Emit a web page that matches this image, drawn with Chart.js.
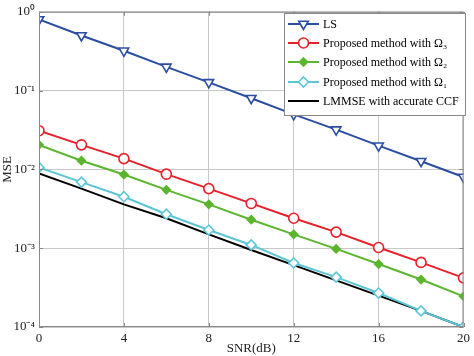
<!DOCTYPE html>
<html><head><meta charset="utf-8">
<script src="https://cdn.jsdelivr.net/npm/chart.js@4"></script>
<style>html,body{margin:0;padding:0;background:#fff}#wrap{width:474px;height:356px}</style>
</head><body><div id="wrap"><canvas id="c"></canvas></div>
<script>
const snr = [0, 2, 4, 6, 8, 10, 12, 14, 16, 18, 20];
const lsMSE = [0.8, 0.5, 0.32, 0.2, 0.127, 0.08, 0.05, 0.032, 0.02, 0.0127, 0.008];
const omega3MSE = [0.031, 0.0205, 0.0137, 0.0087, 0.0057, 0.0037, 0.0024, 0.0016, 0.00102, 0.00066, 0.00042];
const omega2MSE = [0.0205, 0.0129, 0.0086, 0.0055, 0.0036, 0.0023, 0.0015, 0.00098, 0.00063, 0.0004, 0.000245];
const omega1MSE = [0.0106, 0.0069, 0.0045, 0.0027, 0.0017, 0.0011, 0.00065, 0.00043, 0.00027, 0.00016, 0.0001];
const lmmseMSE = [0.0089, 0.0057, 0.0036, 0.0024, 0.0015, 0.00095, 0.00061, 0.00039, 0.00025, 0.00016, 0.0001];
const xTicks = [0, 4, 8, 12, 16, 20];
const yTicks = [1e-4, 1e-3, 1e-2, 1e-1, 1];
const yTickLabels = ['10\u207B\u2074', '10\u207B\u00B3', '10\u207B\u00B2', '10\u207B\u00B9', '10\u2070'];
const seriesNames = ['LS', 'Proposed method with \u03A9\u2083', 'Proposed method with \u03A9\u2082', 'Proposed method with \u03A9\u2081', 'LMMSE with accurate CCF'];

const pts = arr => arr.map((v, i) => ({x: snr[i], y: v}));
const FONT = '"Liberation Serif", "Times New Roman", serif';

const styles = [
  {c: '#2b4ea2', ps: 'triangle', rot: 180, r: 5.5, fill: '#ffffff'},
  {c: '#e62129', ps: 'circle', rot: 0, r: 5, fill: '#ffffff'},
  {c: '#5bb52e', ps: 'rectRot', rot: 0, r: 4, fill: '#5bb52e'},
  {c: '#5cc6d6', ps: 'rectRot', rot: 0, r: 5, fill: '#ffffff'},
  {c: '#000000', ps: false, rot: 0, r: 0, fill: '#000000'}
];
const series = [lsMSE, omega3MSE, omega2MSE, omega1MSE, lmmseMSE];
const orders = [1, 2, 3, 4, 5];

const datasets = series.map((s, i) => ({
  label: seriesNames[i],
  data: pts(s),
  borderColor: styles[i].c,
  backgroundColor: styles[i].fill,
  borderWidth: 2,
  pointStyle: styles[i].ps,
  pointRotation: styles[i].rot,
  pointRadius: styles[i].r,
  pointBorderWidth: 1.6,
  pointBorderColor: styles[i].c,
  pointBackgroundColor: styles[i].fill,
  tension: 0,
  order: orders[i]
}));

const framePlugin = {
  id: 'frame',
  afterDatasetsDraw(chart) {
    const {ctx, chartArea: a, scales} = chart;
    ctx.save();
    ctx.strokeStyle = '#888888';
    ctx.lineWidth = 1;
    ctx.strokeRect(a.left + 0.5, a.top + 0.5, a.right - a.left - 1, a.bottom - a.top - 1);
    ctx.beginPath();
    xTicks.forEach(t => {
      const x = Math.round(scales.x.getPixelForValue(t)) + 0.5;
      ctx.moveTo(x, a.bottom); ctx.lineTo(x, a.bottom - 4);
      ctx.moveTo(x, a.top); ctx.lineTo(x, a.top + 4);
    });
    yTicks.forEach(t => {
      const y = Math.round(scales.y.getPixelForValue(t)) + 0.5;
      ctx.moveTo(a.left, y); ctx.lineTo(a.left + 4, y);
      ctx.moveTo(a.right, y); ctx.lineTo(a.right - 4, y);
    });
    ctx.stroke();
    ctx.restore();
  },
  afterDraw(chart) {
    const {ctx} = chart;
    ctx.save();
    const bx = 284, by = 13, bw = 181, bh = 102;
    ctx.fillStyle = '#ffffff';
    ctx.fillRect(bx, by, bw, bh);
    ctx.strokeStyle = '#888888';
    ctx.lineWidth = 1;
    ctx.strokeRect(bx + 0.5, by + 0.5, bw, bh);
    const rows = [24, 43, 62, 82, 101];
    ctx.font = '12px ' + FONT;
    ctx.textBaseline = 'middle';
    ctx.textAlign = 'left';
    seriesNames.forEach((name, i) => {
      const y = rows[i];
      const st = styles[i];
      ctx.strokeStyle = st.c;
      ctx.lineWidth = 2;
      ctx.beginPath(); ctx.moveTo(288, y); ctx.lineTo(319, y); ctx.stroke();
      if (st.ps) {
        ctx.fillStyle = st.fill;
        ctx.lineWidth = 1.6;
        Chart.helpers.drawPoint(ctx, {pointStyle: st.ps, rotation: st.rot, radius: st.r, borderWidth: 1.6}, 303.5, y);
      }
      ctx.fillStyle = '#000000';
      ctx.fillText(name, 323, y + 1);
    });
    ctx.restore();
  }
};

new Chart(document.getElementById('c'), {
  type: 'line',
  data: {datasets},
  options: {
    responsive: true,
    maintainAspectRatio: false,
    animation: false,
    layout: {padding: {top: 8, right: 7, left: 0, bottom: 0}},
    plugins: {legend: {display: false}, tooltip: {enabled: false}},
    scales: {
      x: {
        type: 'linear', min: 0, max: 20,
        afterBuildTicks: s => { s.ticks = xTicks.map(v => ({value: v})); },
        afterFit: s => { s.height = 29; },
        border: {display: false},
        grid: {color: '#c8c8c8', borderDash: [1.5, 3], drawTicks: false, lineWidth: 1},
        ticks: {color: '#222', font: {family: FONT, size: 13}, padding: 4, maxRotation: 0},
        title: {display: true, text: 'SNR(dB)', color: '#222', font: {family: FONT, size: 13}, padding: {top: 0, bottom: 0}}
      },
      y: {
        type: 'logarithmic', min: 1e-4, max: 1,
        afterBuildTicks: s => { s.ticks = yTicks.map(v => ({value: v})); },
        afterFit: s => { s.width = 39; },
        border: {display: false},
        grid: {color: '#c8c8c8', borderDash: [1.5, 3], drawTicks: false, lineWidth: 1},
        ticks: {
          color: '#222', font: {family: FONT, size: 13}, padding: 4,
          callback: (v) => { const i = yTicks.findIndex(t => Math.abs(t - v) / t < 1e-6); return i >= 0 ? yTickLabels[i] : ''; }
        },
        title: {display: true, text: 'MSE', color: '#222', font: {family: FONT, size: 13}, padding: {top: 0, bottom: 0}}
      }
    }
  },
  plugins: [framePlugin]
});
</script></body></html>
